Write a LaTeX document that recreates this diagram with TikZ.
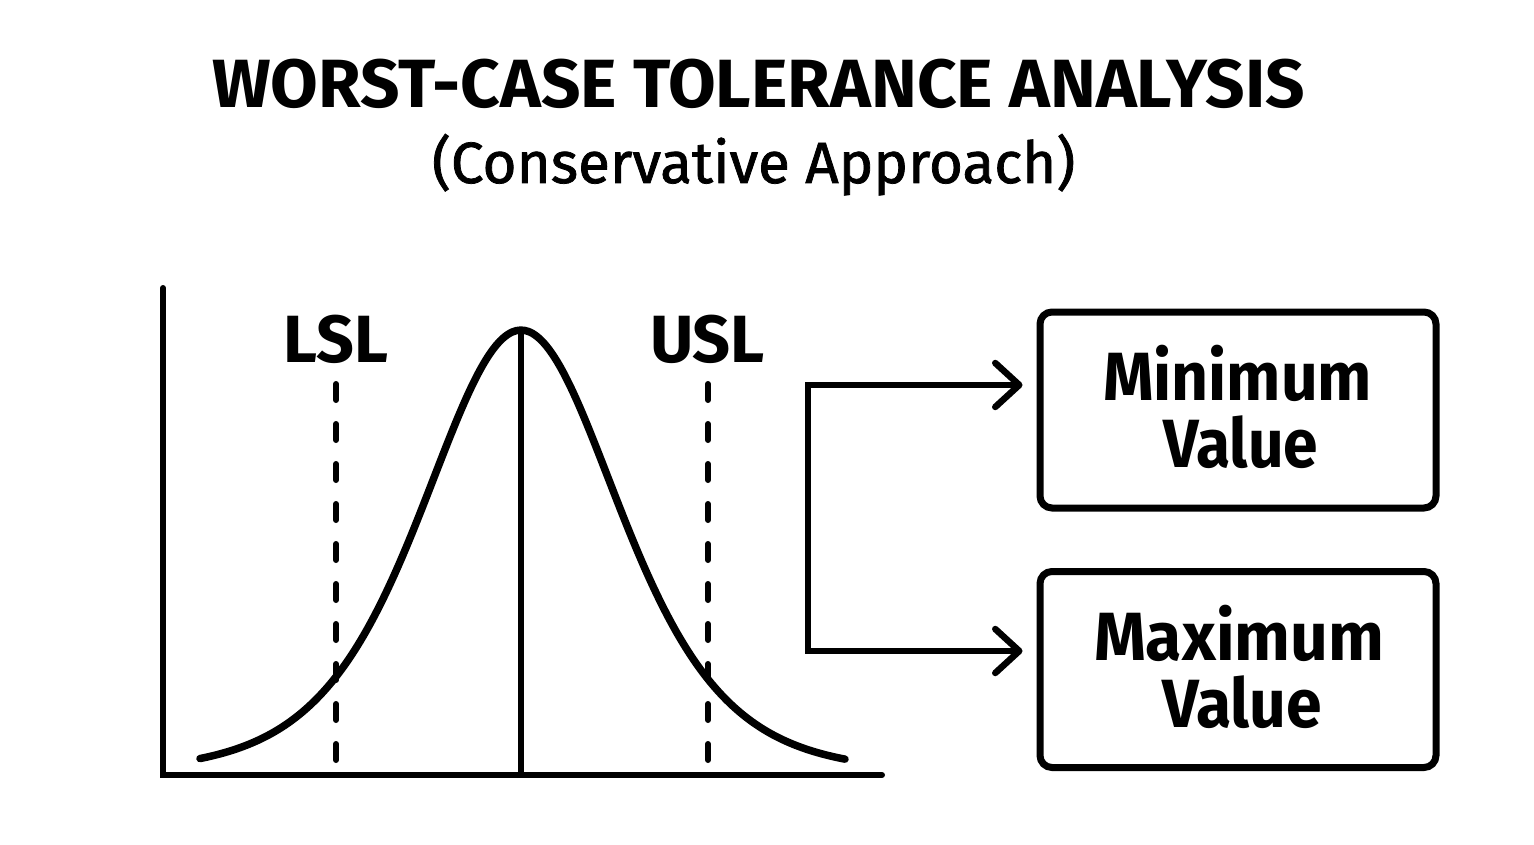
\documentclass[tikz,border=0pt]{standalone}
\usepackage{fontspec}
\usepackage{graphicx}
\setmainfont{Fira Sans}
\newfontfamily\medfont[FakeBold=1.3]{Fira Sans}
\usetikzlibrary{arrows.meta}
\newcommand{\fittext}[3]{\resizebox{#1pt}{#2pt}{\smash{#3}\vphantom{M}}}
\tikzset{
  lbl/.style={inner sep=0pt, outer sep=0pt, anchor=south west, text=black},
  axisline/.style={line width=6pt, line cap=round},
  curveline/.style={line width=7.5pt, line cap=round},
  limitline/.style={line width=6pt, line cap=round, dash pattern=on 16pt off 24pt},
  meanline/.style={line width=5.5pt},
  valbox/.style={draw, line width=7pt, rounded corners=12pt, minimum width=396pt, minimum height=196pt, inner sep=0pt},
  conn/.style={line width=6.5pt, line join=miter,
    {Straight Barb[length=24pt, width=44pt, round, line width=6.5pt]}-{Straight Barb[length=24pt, width=44pt, round, line width=6.5pt]},
    shorten <=14pt, shorten >=14pt},
}
\begin{document}
\begin{tikzpicture}[x=1pt,y=-1pt]
\useasboundingbox (0,0) rectangle (1534,845);
\fill[white] (0,0) rectangle (1534,845);
% titles
\node[lbl] (title) at (212,108) {\fittext{1093}{47}{\bfseries WORST-CASE TOLERANCE ANALYSIS}};
\node[lbl] (subtitle) at (432,183) {\fittext{643}{40}{\medfont (Conservative Approach)}};
% axes
\coordinate (ytop) at (163,288);
\coordinate (origin) at (163,775);
\coordinate (xend) at (882,775);
\draw[axisline] (ytop) -- (origin) -- (xend);
% limits
\coordinate (lslTop) at (336,384);
\coordinate (lslBot) at (336,775);
\coordinate (uslTop) at (708,384);
\coordinate (uslBot) at (708,775);
\draw[limitline] (lslTop) -- (lslBot);
\draw[limitline] (uslTop) -- (uslBot);
\node[lbl] (lsl) at (283,362) {\fittext{105}{46}{\bfseries LSL}};
\node[lbl] (usl) at (650,362) {\fittext{115}{46}{\bfseries USL}};
% mean line
\coordinate (peak) at (521,330);
\coordinate (meanBot) at (521,775);
\draw[meanline] (peak) -- (meanBot);
% bell curve
\draw[curveline] plot[domain=-321:324, samples=160, smooth]
  ({521+\x}, {772-1768/((exp(\x/132)+exp(-\x/132))^2)});
% boxes
\node[valbox] (minbox) at (1238,410) {};
\node[valbox] (maxbox) at (1238,669.5) {};
\node[lbl] (mintxt1) at (1103,400) {\fittext{269}{47}{\bfseries Minimum}};
\node[lbl] (mintxt2) at (1163,467) {\fittext{155}{47}{\bfseries Value}};
\node[lbl] (maxtxt1) at (1094,660) {\fittext{290}{47}{\bfseries Maximum}};
\node[lbl] (maxtxt2) at (1162,727) {\fittext{160}{47}{\bfseries Value}};
% connector
\coordinate (j1) at (808,385);
\coordinate (j2) at (808,651);
\draw[conn] (j1 -| minbox.west) -- (j1) -- (j2) -- (j2 -| maxbox.west);
\end{tikzpicture}
\end{document}
